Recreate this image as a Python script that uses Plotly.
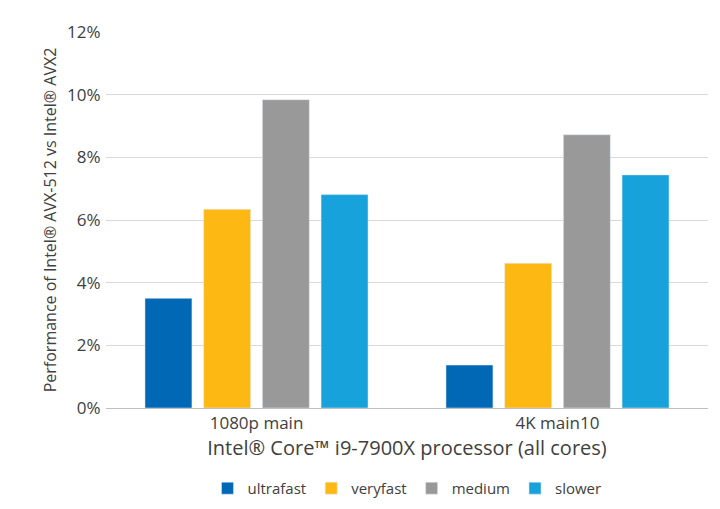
import plotly.graph_objects as go

categories = ["1080p main", "4K main10"]
ultrafast = [0.035, 0.0137]
veryfast = [0.0634, 0.0462]
medium = [0.0984, 0.0872]
slower = [0.0681, 0.0744]

series = [
    ("ultrafast", ultrafast, "#0068B5"),
    ("veryfast", veryfast, "#FDB813"),
    ("medium", medium, "#999999"),
    ("slower", slower, "#18A2DC"),
]

fig = go.Figure()
for name, vals, color in series:
    fig.add_trace(go.Bar(x=categories, y=vals, name=name, marker_color=color))

fig.update_layout(
    width=720, height=509,
    barmode="group", bargap=0.22, bargroupgap=0.2,
    plot_bgcolor="white", paper_bgcolor="white",
    font=dict(family="Open Sans, Noto Sans, sans-serif", size=17, color="#404040"),
    margin=dict(l=98, r=20, t=24, b=101),
    xaxis=dict(
        title=dict(text="Intel® Core™ i9-7900X processor (all cores)", standoff=0),
        showline=True, linecolor="#BFBFBF", ticks="", automargin=False,
    ),
    yaxis=dict(
        title=dict(text="Performance of Intel® AVX-512 vs Intel® AVX2", font=dict(size=16), standoff=6),
        range=[0, 0.12], dtick=0.02, tickformat=".0%",
        gridcolor="#D9D9D9", zeroline=False, ticksuffix=" ", automargin=False,
    ),
    legend=dict(orientation="h", x=0.5, xanchor="center", y=-0.17, yanchor="top",
                font=dict(size=15)),
)
fig.write_html("out.html")
